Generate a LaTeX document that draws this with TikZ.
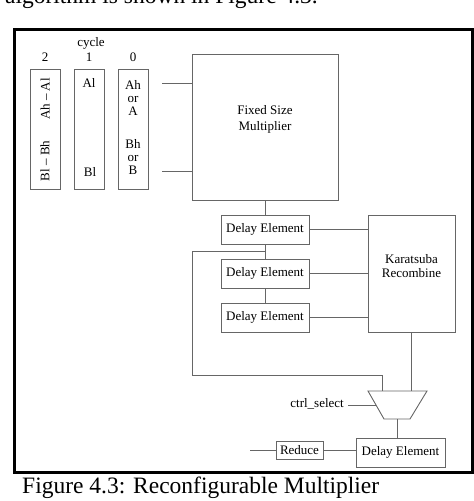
\documentclass[tikz,border=0pt]{standalone}
\usepackage{fontspec}
\setmainfont{Liberation Serif}
\begin{document}
\begin{tikzpicture}[x=1pt,y=-1pt,
  wire/.style={draw=black!60,line width=0.9pt},
  blk/.style={draw=black!60,line width=0.9pt,inner sep=0pt,font=\fontsize{13}{15}\selectfont},
  lbl/.style={inner sep=0pt,font=\fontsize{13}{15}\selectfont,align=center},
  big/.style={inner sep=0pt,font=\fontsize{23.5}{26}\selectfont}]
\useasboundingbox (0,0) rectangle (474,501);
% surrounding text
\node[big,anchor=base east] (toptext) at (318,3) {algorithm is shown in Figure 4.3.};
\node[big,anchor=base west] (caption) at (22,493) {Figure 4.3: Reconfigurable Multiplier};
% frame
\draw[line width=2.2pt] (14.5,29.5) rectangle (472.5,472.5);
% cycle labels
\node[lbl] (cyc) at (91,43) {cycle};
\node[lbl] (c2) at (45,57) {2};
\node[lbl] (c1) at (89,57) {1};
\node[lbl] (c0) at (133,57) {0};
% operand boxes
\node[blk,minimum width=30pt,minimum height=120pt] (b2) at (45,129) {};
\node[blk,minimum width=30pt,minimum height=120pt] (b1) at (89,129) {};
\node[blk,minimum width=30pt,minimum height=120pt] (b0) at (133,129) {};
\node[lbl,rotate=90] (b2a) at (45,99) {Ah -- Al};
\node[lbl,rotate=90] (b2b) at (45,161) {Bl -- Bh};
\node[lbl] (b1a) at (89,83) {Al};
\node[lbl] (b1b) at (90,172) {Bl};
\node[lbl] (b0a) at (133,98) {Ah\\[-2pt]or\\[-2pt]A};
\node[lbl] (b0b) at (133,157) {Bh\\[-2pt]or\\[-2pt]B};
% multiplier
\node[blk,minimum width=146pt,minimum height=146pt] (mult) at (265,127) {};
\node[lbl] (multl) at (265,119.5) {Fixed Size\\[1pt]Multiplier};
\coordinate (inA) at (162,83);
\coordinate (inB) at (162,171);
\draw[wire] (inA) -- (inA -| mult.west);
\draw[wire] (inB) -- (inB -| mult.west);
% delay elements
\node[blk,minimum width=88pt,minimum height=29pt] (de1) at (265,229.5) {Delay Element};
\node[blk,minimum width=88pt,minimum height=29pt] (de2) at (265,273.5) {Delay Element};
\node[blk,minimum width=88pt,minimum height=29pt] (de3) at (265,317.5) {Delay Element};
\node[blk,minimum width=87pt,minimum height=117pt] (kara) at (411.5,273.5) {};
\node[lbl] (karal) at (411.5,266.5) {Karatsuba\\[-1pt]Recombine};
\draw[wire] (mult.south) -- (de1.north);
\draw[wire] (de1.south) -- (de2.north);
\draw[wire] (de2.south) -- (de3.north);
\draw[wire] (de1.east) -- (de1.east -| kara.west);
\draw[wire] (de2.east) -- (de2.east -| kara.west);
\draw[wire] (de3.east) -- (de3.east -| kara.west);
% mux
\coordinate (mTL) at (368,391);
\coordinate (mTR) at (427,391);
\coordinate (mBR) at (410,419);
\coordinate (mBL) at (384,419);
\coordinate (mB) at (397,419);
\coordinate (mL) at (376,405);
\draw[wire] (mTL) -- (mTR) -- (mBR) -- (mBL) -- cycle;
\coordinate (fb) at (265,251);
\coordinate (muxin) at (382,391);
\draw[wire] (fb) -- (192,251) -- (192,375) -- (382,375) -- (muxin);
\draw[wire] (kara.south) -- (kara.south |- mTL);
\node[lbl,anchor=east] (ctrl) at (344,404) {ctrl\_select};
\draw[wire] (ctrl.east |- mL) ++(4,0) -- (mL);
% output stage
\node[blk,minimum width=89pt,minimum height=29pt] (de4) at (400.5,452.5) {Delay Element};
\node[blk,minimum width=47pt,minimum height=18pt] (red) at (299.5,450.5) {Reduce};
\draw[wire] (mB) -- (mB |- de4.north);
\draw[wire] (red.east) -- (red.east -| de4.west);
\coordinate (out) at (250,450.5);
\draw[wire] (out) -- (red.west);
\end{tikzpicture}
\end{document}
